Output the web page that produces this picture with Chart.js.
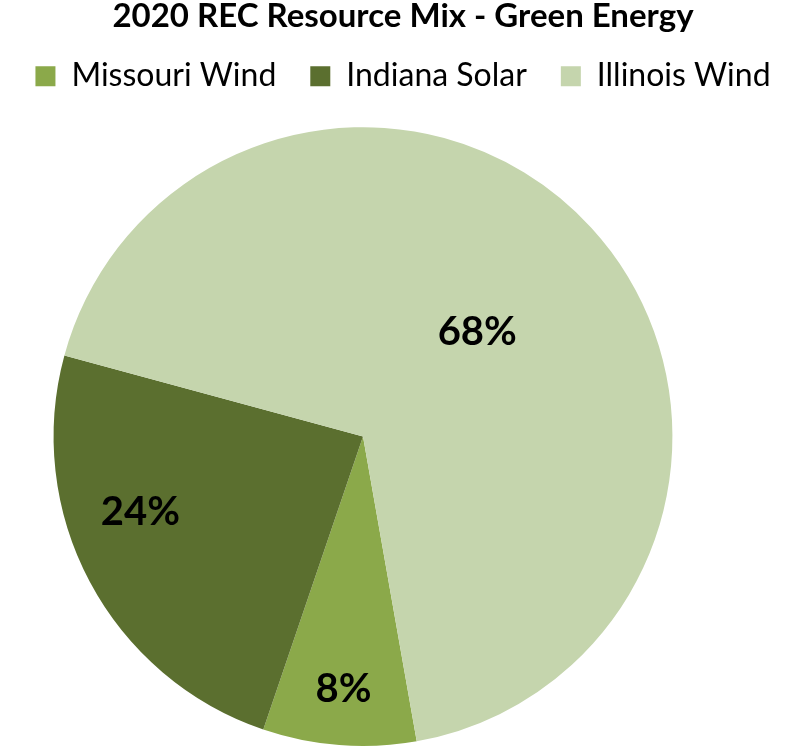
<!DOCTYPE html>
<html>
<head>
<meta charset="utf-8">
<script src="https://cdn.jsdelivr.net/npm/chart.js"></script>
<style>
  html, body { margin: 0; padding: 0; background: #ffffff; }
  #wrap { width: 806px; height: 747px; }
</style>
</head>
<body>
<div id="wrap"><canvas id="pieChart"></canvas></div>
<script>
// data
const categories = ['Missouri Wind', 'Indiana Solar', 'Illinois Wind'];
const shares = [8, 24, 68];
const sliceColors = ['#8BA94A', '#5B6F2F', '#C5D5AD'];

// empty layout boxes: one under the legend, one on the right so the pie sits left of centre
function spacerBox(position, size) {
  const horizontal = position === 'top' || position === 'bottom';
  return {
    position: position,
    weight: 0,
    fullSize: false,
    options: {},
    width: 0,
    height: 0,
    isHorizontal() { return horizontal; },
    update(maxWidth, maxHeight) {
      this.width = horizontal ? maxWidth : size;
      this.height = horizontal ? size : maxHeight;
    },
    draw() {}
  };
}

const spacers = {
  id: 'spacers',
  beforeInit(chart, args, opts) {
    Chart.layouts.addBox(chart, spacerBox('top', opts.top));
    Chart.layouts.addBox(chart, spacerBox('right', opts.right));
  }
};

// draw the percent labels inside each slice
const sliceLabels = {
  id: 'sliceLabels',
  afterDatasetsDraw(chart, args, opts) {
    const ctx = chart.ctx;
    const meta = chart.getDatasetMeta(0);
    ctx.save();
    ctx.font = opts.font;
    ctx.fillStyle = '#000';
    ctx.textAlign = 'center';
    ctx.textBaseline = 'middle';
    meta.data.forEach((arc, i) => {
      const p = arc.getProps(['x', 'y', 'startAngle', 'endAngle', 'outerRadius'], true);
      const mid = (p.startAngle + p.endAngle) / 2 + (opts.shift[i] || 0);
      const r = p.outerRadius * opts.radius[i];
      ctx.fillText(shares[i] + '%', p.x + Math.cos(mid) * r, p.y + Math.sin(mid) * r);
    });
    ctx.restore();
  }
};

const ctx = document.getElementById('pieChart').getContext('2d');
new Chart(ctx, {
  type: 'pie',
  data: {
    labels: categories,
    datasets: [{
      data: shares,
      backgroundColor: sliceColors,
      borderWidth: 0
    }]
  },
  options: {
    responsive: true,
    maintainAspectRatio: false,
    animation: false,
    rotation: 170,
    layout: { padding: { left: 0, right: 0, top: 0, bottom: 1 } },
    plugins: {
      title: {
        display: true,
        text: '2020 REC Resource Mix - Green Energy',
        color: '#000',
        font: { family: 'Lato', size: 33, weight: 'bold', lineHeight: 0.58 },
        padding: { top: 7, bottom: 0 }
      },
      legend: {
        position: 'top',
        labels: {
          color: '#000',
          font: { family: 'Lato', size: 32 },
          boxWidth: 20,
          boxHeight: 20,
          padding: 34
        }
      },
      tooltip: { enabled: false },
      spacers: { top: 25, right: 80 },
      sliceLabels: {
        font: 'bold 40px Lato',
        radius: [0.82, 0.76, 0.5],
        shift: [0, 0.16, 0]
      }
    }
  },
  plugins: [spacers, sliceLabels]
});
</script>
</body>
</html>
